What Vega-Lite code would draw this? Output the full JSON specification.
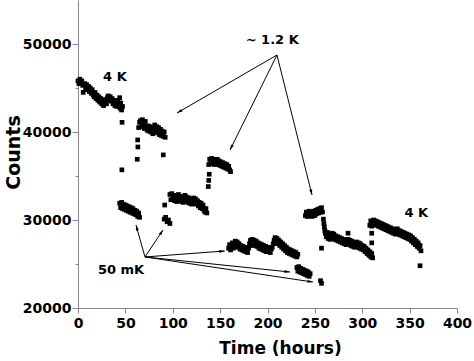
{
"$schema":"https://vega.github.io/schema/vega-lite/v6.json",
"width":379,"height":308,"autosize":"none",
"padding":{"left":78,"top":0,"right":17,"bottom":53},
"config":{"view":{"stroke":null},"axis":{"grid":false,"domainColor":"#888","tickColor":"#888","labelFont":"DejaVu Sans","labelFontWeight":"bold","labelFontSize":14,"labelColor":"#000","titleFont":"DejaVu Sans","titleFontWeight":"bold","titleColor":"#000","labelFlush":false,"labelOverlap":false}},
"datasets":{
"pts":[
{"t":0,"c":45800},{"t":1,"c":45500},{"t":2,"c":46000},{"t":3,"c":45500},{"t":4,"c":45800},{"t":5,"c":45300},{"t":5.5,"c":44500},{"t":7,"c":45500},{"t":8,"c":45000},{"t":9,"c":45400},{"t":10,"c":44800},{"t":11,"c":45200},{"t":12,"c":44600},{"t":13,"c":45000},{"t":14,"c":44400},{"t":15,"c":44800},{"t":16,"c":44200},{"t":17,"c":44000},{"t":18,"c":44500},{"t":19,"c":43800},{"t":20,"c":44200},{"t":21,"c":43600},{"t":22,"c":44000},{"t":23,"c":43400},{"t":24,"c":43800},{"t":25,"c":43200},{"t":26,"c":43600},{"t":27,"c":43000},{"t":28,"c":43400},{"t":29,"c":43700},{"t":30,"c":43200},{"t":31,"c":43900},{"t":32,"c":44100},{"t":33,"c":43600},{"t":34,"c":44000},{"t":35,"c":43500},{"t":36,"c":43800},{"t":37,"c":43200},{"t":38,"c":43600},{"t":39,"c":43000},{"t":40,"c":43400},{"t":41,"c":42900},{"t":42,"c":43600},{"t":43,"c":43100},{"t":44,"c":43900},{"t":44.5,"c":42700},{"t":45,"c":43300},{"t":46,"c":42500},{"t":47,"c":42900},
{"t":46.5,"c":41100},{"t":46.3,"c":35700},
{"t":44,"c":31900},{"t":45,"c":31400},{"t":46,"c":32000},{"t":47,"c":31300},{"t":48,"c":31800},{"t":49,"c":31200},{"t":50,"c":31700},{"t":51,"c":31100},{"t":52,"c":31600},{"t":53,"c":31000},{"t":54,"c":31500},{"t":55,"c":30900},{"t":56,"c":31400},{"t":57,"c":30800},{"t":58,"c":31300},{"t":59,"c":30700},{"t":60,"c":31100},{"t":61,"c":30600},{"t":62,"c":31000},{"t":63,"c":30400},{"t":64,"c":30800},{"t":65,"c":30300},
{"t":63,"c":39100},{"t":63.2,"c":38300},{"t":62.5,"c":36900},
{"t":64,"c":40500},{"t":65,"c":41100},{"t":66,"c":41300},{"t":67,"c":40600},{"t":68,"c":41400},{"t":69,"c":40800},{"t":70,"c":40400},{"t":71,"c":41200},{"t":72,"c":40600},{"t":73,"c":40200},{"t":74,"c":40700},{"t":75,"c":40100},{"t":76,"c":40600},{"t":77,"c":40000},{"t":78,"c":40500},{"t":79,"c":39800},{"t":80,"c":40400},{"t":81,"c":40800},{"t":82,"c":40100},{"t":83,"c":40600},{"t":84,"c":39900},{"t":85,"c":40500},{"t":86,"c":39700},{"t":87,"c":40300},{"t":88,"c":39600},{"t":89,"c":40100},{"t":90,"c":39500},{"t":91,"c":40000},{"t":92,"c":39400},
{"t":90,"c":37400},{"t":91.5,"c":31700},
{"t":91,"c":30100},{"t":92.5,"c":30300},{"t":94,"c":29800},{"t":95.5,"c":30000},{"t":97,"c":29600},
{"t":97,"c":32900},{"t":98,"c":32300},{"t":99,"c":33000},{"t":100,"c":32400},{"t":101,"c":32800},{"t":102,"c":32200},{"t":103,"c":32700},{"t":104,"c":32100},{"t":105,"c":32600},{"t":106,"c":32900},{"t":107,"c":32300},{"t":108,"c":32700},{"t":109,"c":32100},{"t":110,"c":32600},{"t":111,"c":32000},{"t":112,"c":32500},{"t":113,"c":32800},{"t":114,"c":32200},{"t":115,"c":32600},{"t":116,"c":32000},{"t":117,"c":32500},{"t":118,"c":31900},{"t":119,"c":32400},{"t":120,"c":31800},{"t":121,"c":32300},{"t":122,"c":32500},{"t":123,"c":31900},{"t":124,"c":32400},{"t":125,"c":31800},{"t":126,"c":32200},{"t":127,"c":31600},{"t":128,"c":32000},{"t":129,"c":31400},{"t":130,"c":31900},{"t":131,"c":31300},{"t":132,"c":31700},{"t":133,"c":31100},{"t":134,"c":30900},{"t":135,"c":31300},{"t":136,"c":30800},
{"t":137.5,"c":33800},{"t":138,"c":34500},{"t":138.5,"c":35200},
{"t":138,"c":36300},{"t":139,"c":36900},{"t":140,"c":36400},{"t":141,"c":37000},{"t":142,"c":36500},{"t":143,"c":36900},{"t":144,"c":36300},{"t":145,"c":36800},{"t":146,"c":36400},{"t":147,"c":36900},{"t":148,"c":36300},{"t":149,"c":36700},{"t":150,"c":36200},{"t":151,"c":36600},{"t":152,"c":36100},{"t":153,"c":36500},{"t":154,"c":36000},{"t":155,"c":36400},{"t":156,"c":35900},{"t":157,"c":36300},{"t":158,"c":35800},{"t":159,"c":36100},{"t":160,"c":35700},{"t":161,"c":35500},
{"t":159,"c":26800},{"t":160,"c":27200},{"t":161,"c":26600},{"t":162,"c":27100},{"t":163,"c":27400},{"t":164,"c":26800},{"t":165,"c":27300},{"t":166,"c":27600},{"t":167,"c":27000},{"t":168,"c":27500},{"t":169,"c":26900},{"t":170,"c":27300},{"t":171,"c":26700},{"t":172,"c":27100},{"t":173,"c":26600},{"t":174,"c":27000},{"t":175,"c":26500},{"t":176,"c":26900},{"t":177,"c":26400},{"t":178,"c":26800},{"t":179,"c":26300},{"t":180,"c":26800},{"t":181,"c":27300},{"t":182,"c":27700},{"t":183,"c":27100},{"t":184,"c":27800},{"t":185,"c":27200},{"t":186,"c":27700},{"t":187,"c":27100},{"t":188,"c":27600},{"t":189,"c":27000},{"t":190,"c":27400},{"t":191,"c":26800},{"t":192,"c":27300},{"t":193,"c":26700},{"t":194,"c":27200},{"t":195,"c":26600},{"t":196,"c":27100},{"t":197,"c":26500},{"t":198,"c":27000},{"t":199,"c":26400},{"t":200,"c":26900},{"t":201,"c":26400},{"t":202,"c":26800},{"t":203,"c":26300},{"t":204,"c":26700},{"t":205,"c":26900},{"t":206,"c":27300},{"t":207,"c":27700},{"t":208,"c":28000},{"t":209,"c":27400},{"t":210,"c":27900},{"t":211,"c":27300},{"t":212,"c":27700},{"t":213,"c":27100},{"t":214,"c":27500},{"t":215,"c":26900},{"t":216,"c":27300},{"t":217,"c":26700},{"t":218,"c":27100},{"t":219,"c":26500},{"t":220,"c":26900},{"t":221,"c":26300},{"t":222,"c":26700},{"t":223,"c":26200},{"t":224,"c":26600},{"t":225,"c":26100},{"t":226,"c":26500},{"t":227,"c":26000},{"t":228,"c":26400},{"t":229,"c":25900},{"t":230,"c":26300},{"t":231,"c":25800},{"t":232,"c":26100},
{"t":231,"c":24600},{"t":232,"c":24200},{"t":233,"c":24700},{"t":234,"c":24100},{"t":235,"c":24500},{"t":236,"c":24000},{"t":237,"c":24400},{"t":238,"c":23900},{"t":239,"c":24300},{"t":240,"c":23800},{"t":241,"c":24200},{"t":242,"c":23700},{"t":243,"c":24100},{"t":244,"c":23600},{"t":245,"c":23900},
{"t":256,"c":23100},{"t":257,"c":22800},
{"t":240,"c":30500},{"t":241,"c":30900},{"t":242,"c":30400},{"t":243,"c":30800},{"t":244,"c":31000},{"t":245,"c":30500},{"t":246,"c":30900},{"t":247,"c":30400},{"t":248,"c":30800},{"t":249,"c":31000},{"t":250,"c":30500},{"t":251,"c":31100},{"t":252,"c":30700},{"t":253,"c":31200},{"t":254,"c":30800},{"t":255,"c":31300},{"t":256,"c":30900},{"t":257,"c":31400},{"t":258,"c":30900},
{"t":259,"c":30100},{"t":259.5,"c":29600},{"t":260,"c":29200},{"t":260.5,"c":28800},{"t":261,"c":28500},{"t":262,"c":28100},{"t":263,"c":28600},{"t":264,"c":27900},{"t":265,"c":28400},{"t":266,"c":27800},{"t":267,"c":28300},{"t":268,"c":28500},{"t":269,"c":27900},{"t":270,"c":28400},{"t":271,"c":27800},{"t":272,"c":28200},{"t":273,"c":27700},{"t":274,"c":28100},{"t":275,"c":27600},{"t":276,"c":28000},{"t":277,"c":27500},{"t":278,"c":27900},{"t":279,"c":27400},{"t":280,"c":27800},{"t":281,"c":27300},{"t":282,"c":27700},{"t":283,"c":27200},{"t":284,"c":27600},{"t":285,"c":27800},{"t":286,"c":27300},{"t":287,"c":27700},{"t":288,"c":27100},{"t":289,"c":27600},{"t":290,"c":27000},{"t":291,"c":27400},{"t":292,"c":26900},{"t":293,"c":27300},{"t":294,"c":27500},{"t":295,"c":27000},{"t":296,"c":27400},{"t":297,"c":26800},{"t":298,"c":27300},{"t":299,"c":26700},{"t":300,"c":27100},{"t":301,"c":26600},{"t":302,"c":27000},{"t":303,"c":26400},{"t":304,"c":26800},{"t":305,"c":26200},{"t":306,"c":26600},{"t":307,"c":26000},{"t":308,"c":26400},{"t":309,"c":25800},{"t":310,"c":26200},{"t":311,"c":25700},
{"t":285,"c":28500},{"t":257,"c":26800},{"t":310,"c":28500},{"t":310,"c":27400},
{"t":308,"c":29400},{"t":309,"c":29900},{"t":310,"c":29300},{"t":311,"c":29800},{"t":312,"c":30000},{"t":313,"c":29500},{"t":314,"c":29900},{"t":315,"c":29400},{"t":316,"c":29800},{"t":317,"c":29300},{"t":318,"c":29700},{"t":319,"c":29200},{"t":320,"c":29600},{"t":321,"c":29100},{"t":322,"c":29500},{"t":323,"c":29000},{"t":324,"c":29400},{"t":325,"c":28900},{"t":326,"c":29300},{"t":327,"c":28800},{"t":328,"c":29200},{"t":329,"c":28700},{"t":330,"c":29100},{"t":331,"c":28600},{"t":332,"c":29000},{"t":333,"c":28500},{"t":334,"c":28900},{"t":335,"c":28400},{"t":336,"c":28800},{"t":337,"c":29000},{"t":338,"c":28400},{"t":339,"c":28800},{"t":340,"c":28300},{"t":341,"c":28700},{"t":342,"c":28200},{"t":343,"c":28600},{"t":344,"c":28100},{"t":345,"c":28500},{"t":346,"c":28000},{"t":347,"c":28400},{"t":348,"c":27900},{"t":349,"c":28300},{"t":350,"c":27800},{"t":351,"c":28200},{"t":352,"c":27600},{"t":353,"c":28000},{"t":354,"c":27400},{"t":355,"c":27800},{"t":356,"c":27200},{"t":357,"c":27600},{"t":358,"c":27000},{"t":359,"c":27400},{"t":360,"c":26800},{"t":361,"c":27100},{"t":362,"c":26500},
{"t":361,"c":24800}
],
"arrows":[
{"x1":210,"y1":48750,"x2":104.5,"y2":42160},
{"x1":210,"y1":48750,"x2":160.4,"y2":37950},
{"x1":210,"y1":48750,"x2":247,"y2":32840},
{"x1":70.7,"y1":25800,"x2":61.2,"y2":29430},
{"x1":70.7,"y1":25800,"x2":89.7,"y2":28870},
{"x1":70.7,"y1":25800,"x2":155,"y2":26480},
{"x1":70.7,"y1":25800,"x2":223.7,"y2":24090},
{"x1":70.7,"y1":25800,"x2":248,"y2":22950}
],
"labels":[
{"t":39,"c":46300,"label":"4 K"},
{"t":205,"c":50450,"label":"~ 1.2 K"},
{"t":357,"c":30800,"label":"4 K"},
{"t":45.4,"c":24300,"label":"50 mK"}
]
},
"layer":[
{"data":{"name":"pts"},
 "mark":{"type":"point","shape":"square","filled":true,"color":"#000","size":22,"opacity":1},
 "encoding":{
  "x":{"field":"t","type":"quantitative","scale":{"domain":[0,400],"nice":false},
   "axis":{"title":"Time (hours)","titleFontSize":17,"values":[0,25,50,75,100,125,150,175,200,225,250,275,300,325,350,375,400],"labelExpr":"datum.value % 50 === 0 ? datum.label : ''","tickSize":{"condition":{"test":"datum.value % 50 === 0","value":5},"value":3},"labelPadding":3,"titlePadding":10,"titleX":202}},
  "y":{"field":"c","type":"quantitative","scale":{"domain":[20000,55000],"nice":false,"zero":false},
   "axis":{"title":"Counts","titleFontSize":19,"format":"d","values":[20000,25000,30000,35000,40000,45000,50000],"labelExpr":"datum.value % 10000 === 0 ? datum.label : ''","tickSize":{"condition":{"test":"datum.value % 10000 === 0","value":6},"value":3},"labelPadding":1,"titleX":-74,"titleY":152,"titleAngle":-90,"titleAlign":"center","titleBaseline":"top"}}
 }},
{"data":{"name":"arrows"},
 "mark":{"type":"rule","color":"#000","strokeWidth":1},
 "encoding":{"x":{"field":"x1","type":"quantitative"},"y":{"field":"y1","type":"quantitative"},"x2":{"field":"x2"},"y2":{"field":"y2"}}},
{"data":{"name":"arrows"},
 "transform":[{"calculate":"atan2((datum.x2-datum.x1)*0.9475,(datum.y2-datum.y1)*0.0088)*180/PI","as":"ang"}],
 "mark":{"type":"point","shape":"M0,0L0.6,2.2L-0.6,2.2Z","filled":true,"color":"#000","size":25,"opacity":1},
 "encoding":{"x":{"field":"x2","type":"quantitative"},"y":{"field":"y2","type":"quantitative"},"angle":{"field":"ang","type":"quantitative","scale":null}}},
{"data":{"name":"labels"},
 "mark":{"type":"text","font":"DejaVu Sans","fontWeight":"bold","fontSize":13,"align":"center","baseline":"middle","color":"#000"},
 "encoding":{"x":{"field":"t","type":"quantitative"},"y":{"field":"c","type":"quantitative"},"text":{"field":"label"}}}
]
}
